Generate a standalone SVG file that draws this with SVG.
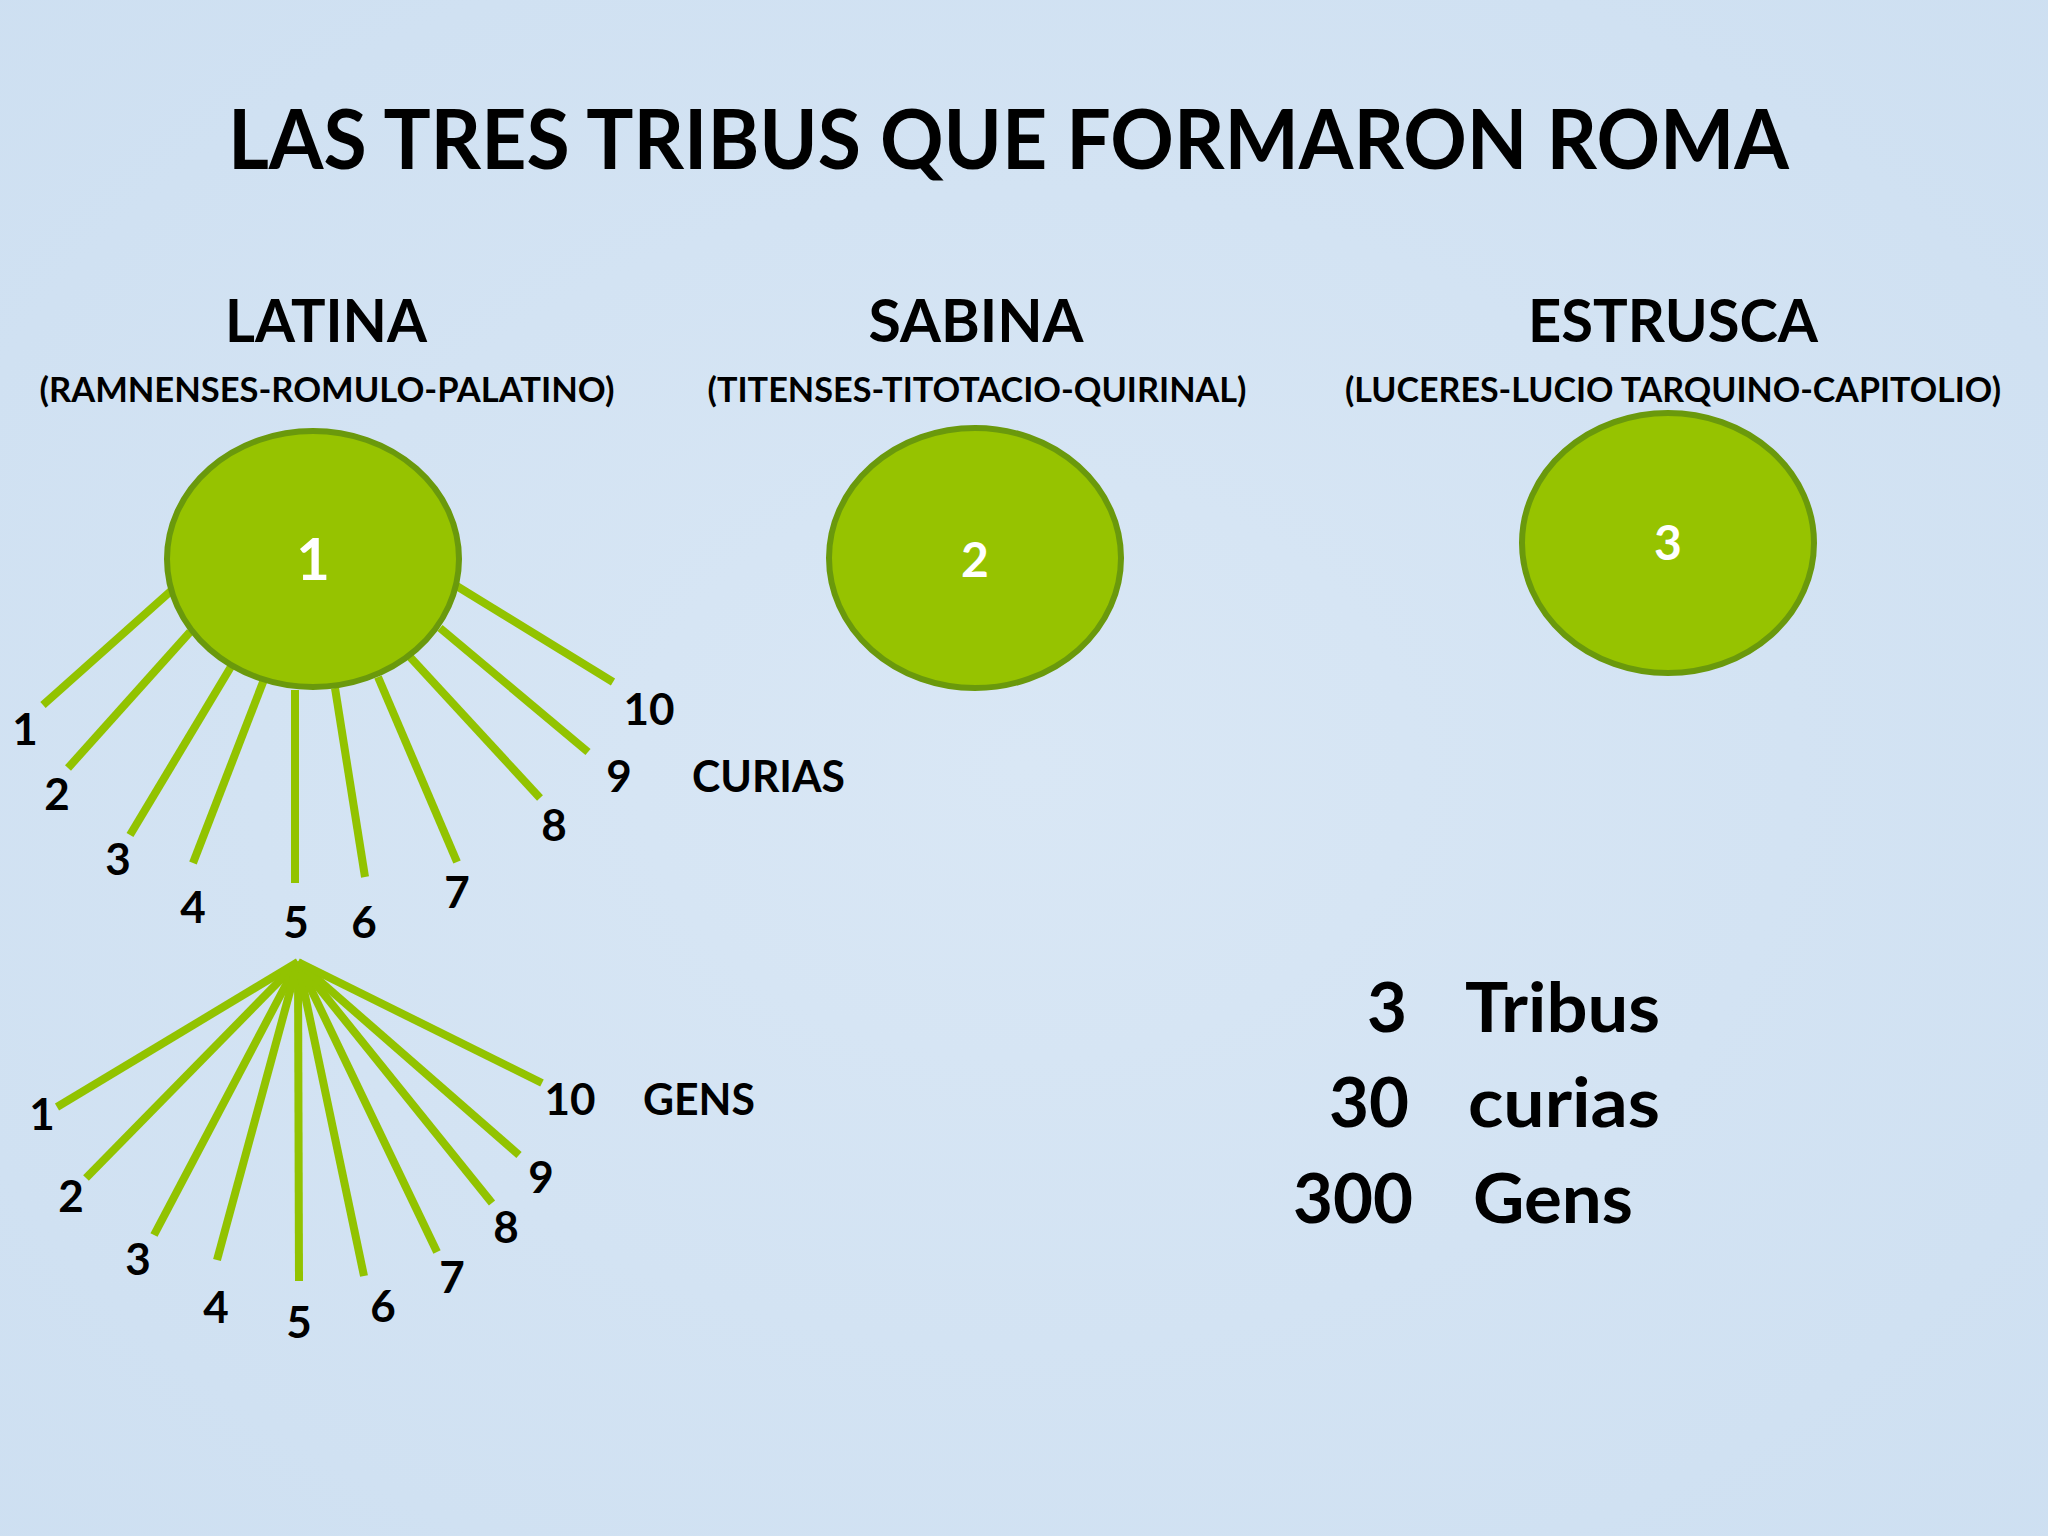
<svg xmlns="http://www.w3.org/2000/svg" width="2048" height="1536" viewBox="0 0 2048 1536">
<defs>
<style>
text{font-family:Lato,"Open Sans","Liberation Sans",sans-serif;font-weight:bold;fill:#000}
.title{font-size:82px}
.head{font-size:59px;text-anchor:middle}
.sub{font-size:34px;text-anchor:middle}
.num{font-size:44px;text-anchor:middle}
.lbl{font-size:43px}
.stat{font-size:69px}
.in{fill:#fff;text-anchor:middle}
.tribe{fill:#96c300;stroke:#6a990c;stroke-width:6}
.spoke{stroke:#92c300;stroke-width:8;fill:none}
</style>
<radialGradient id="bg" cx="50%" cy="50%" r="75%">
<stop offset="0" stop-color="#d9e7f5"/>
<stop offset="1" stop-color="#cddff1"/>
</radialGradient>
</defs>
<rect width="2048" height="1536" fill="url(#bg)"/>

<g id="title">
<text class="title" x="228" y="169" textLength="1561" lengthAdjust="spacingAndGlyphs">LAS TRES TRIBUS QUE FORMARON ROMA</text>
</g>

<g id="connectors">
<line class="spoke" x1="172" y1="590" x2="43" y2="705"/>
<line class="spoke" x1="190" y1="632" x2="68" y2="768"/>
<line class="spoke" x1="232" y1="665" x2="130" y2="835"/>
<line class="spoke" x1="265" y1="677" x2="193" y2="863"/>
<line class="spoke" x1="295" y1="690" x2="295" y2="883"/>
<line class="spoke" x1="335" y1="688" x2="365" y2="877"/>
<line class="spoke" x1="378" y1="677" x2="457" y2="862"/>
<line class="spoke" x1="410" y1="657" x2="540" y2="798"/>
<line class="spoke" x1="440" y1="628" x2="588" y2="752"/>
<line class="spoke" x1="455" y1="585" x2="613" y2="682"/>
<line class="spoke" x1="298" y1="962" x2="57" y2="1107"/>
<line class="spoke" x1="298" y1="962" x2="86" y2="1178"/>
<line class="spoke" x1="298" y1="962" x2="154" y2="1235"/>
<line class="spoke" x1="298" y1="962" x2="217" y2="1260"/>
<line class="spoke" x1="298" y1="962" x2="299" y2="1281"/>
<line class="spoke" x1="298" y1="962" x2="364" y2="1276"/>
<line class="spoke" x1="298" y1="962" x2="437" y2="1252"/>
<line class="spoke" x1="298" y1="962" x2="492" y2="1203"/>
<line class="spoke" x1="298" y1="962" x2="519" y2="1155"/>
<line class="spoke" x1="298" y1="962" x2="542" y2="1083"/>
</g>

<g id="tribe-latina">
<text class="head" x="326" y="342" textLength="202" lengthAdjust="spacingAndGlyphs">LATINA</text>
<text class="sub" x="327" y="402" textLength="575" lengthAdjust="spacingAndGlyphs">(RAMNENSES-ROMULO-PALATINO)</text>
<ellipse class="tribe" cx="313" cy="559" rx="146" ry="128"/>
<text class="in" x="313" y="580" font-size="58">1</text>
</g>

<g id="tribe-sabina">
<text class="head" x="976" y="342" textLength="215" lengthAdjust="spacingAndGlyphs">SABINA</text>
<text class="sub" x="977" y="402" textLength="539" lengthAdjust="spacingAndGlyphs">(TITENSES-TITOTACIO-QUIRINAL)</text>
<ellipse class="tribe" cx="975" cy="558" rx="146" ry="130"/>
<text class="in" x="975" y="577" font-size="48">2</text>
</g>

<g id="tribe-estrusca">
<text class="head" x="1673" y="342" textLength="290" lengthAdjust="spacingAndGlyphs">ESTRUSCA</text>
<text class="sub" x="1673" y="402" textLength="656" lengthAdjust="spacingAndGlyphs">(LUCERES-LUCIO TARQUINO-CAPITOLIO)</text>
<ellipse class="tribe" cx="1668" cy="543" rx="146" ry="130"/>
<text class="in" x="1668" y="560" font-size="48">3</text>
</g>

<g id="curias-labels">
<text class="num" x="25" y="745">1</text>
<text class="num" x="57" y="810">2</text>
<text class="num" x="118" y="875">3</text>
<text class="num" x="193" y="923">4</text>
<text class="num" x="296" y="938">5</text>
<text class="num" x="364" y="938">6</text>
<text class="num" x="457" y="908">7</text>
<text class="num" x="554" y="841">8</text>
<text class="num" x="619" y="792">9</text>
<text class="num" x="649" y="725">10</text>
<text class="lbl" x="692" y="792" textLength="153" lengthAdjust="spacingAndGlyphs">CURIAS</text>
</g>

<g id="gens-labels">
<text class="num" x="42" y="1130">1</text>
<text class="num" x="71" y="1212">2</text>
<text class="num" x="138" y="1275">3</text>
<text class="num" x="216" y="1323">4</text>
<text class="num" x="299" y="1338">5</text>
<text class="num" x="383" y="1322">6</text>
<text class="num" x="452" y="1293">7</text>
<text class="num" x="506" y="1243">8</text>
<text class="num" x="541" y="1193">9</text>
<text class="num" x="570" y="1115">10</text>
<text class="lbl" x="643" y="1115" textLength="112" lengthAdjust="spacingAndGlyphs">GENS</text>
</g>

<g id="summary">
<text class="stat" x="1407" y="1032" text-anchor="end">3</text>
<text class="stat" x="1465" y="1032" textLength="195" lengthAdjust="spacingAndGlyphs">Tribus</text>
<text class="stat" x="1409" y="1127" text-anchor="end">30</text>
<text class="stat" x="1468" y="1127" textLength="192" lengthAdjust="spacingAndGlyphs">curias</text>
<text class="stat" x="1413" y="1223" text-anchor="end">300</text>
<text class="stat" x="1473" y="1223" textLength="160" lengthAdjust="spacingAndGlyphs">Gens</text>
</g>
</svg>
